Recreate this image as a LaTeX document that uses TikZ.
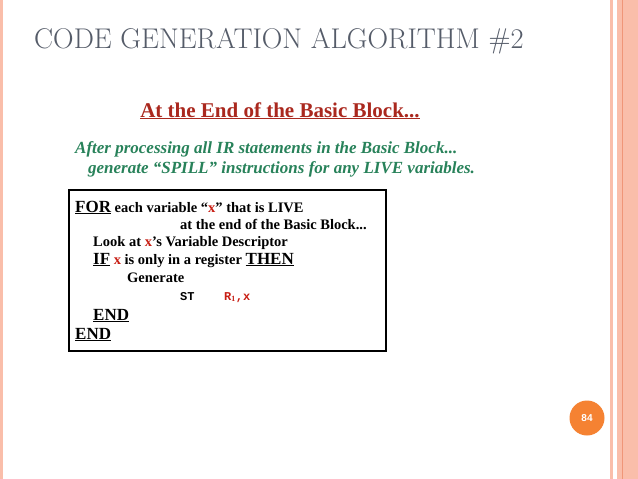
\documentclass[tikz,border=0pt]{standalone}
\usepackage{fontspec}
\setmainfont{Liberation Serif}
\newfontfamily\lmr{Latin Modern Roman}
\newfontfamily\mono{Liberation Mono}
\newfontfamily\sans{Liberation Sans}
\newcommand{\myul}[1]{\underline{#1}}
\definecolor{salmon}{RGB}{250,190,170}
\definecolor{salmond}{RGB}{240,150,120}
\definecolor{titleg}{RGB}{85,92,105}
\definecolor{headred}{RGB}{170,40,30}
\definecolor{greentxt}{RGB}{40,130,90}
\definecolor{xred}{RGB}{200,30,20}
\definecolor{orangec}{RGB}{245,130,50}
\tikzset{ln/.style={anchor=base west,inner sep=0,font=\bfseries\fontsize{14.5}{16}\selectfont}}
\begin{document}
\begin{tikzpicture}[x=1pt,y=-1pt]
\useasboundingbox (0,0) rectangle (638,479);
\fill[white] (0,0) rectangle (638,479);
\fill[salmon] (0,0) rectangle (3,479);
\fill[salmon] (610,0) rectangle (613,479);
\fill[salmon] (617,0) rectangle (638,479);
\draw[salmond,line width=0.8] (622,0) -- (622,479);
\node[anchor=base west,inner sep=0,text=titleg,font=\lmr\fontsize{28.5}{30}\selectfont] (title) at (34,48) {CODE GENERATION ALGORITHM \#2};
\node[anchor=base,inner sep=0,text=headred,font=\bfseries\fontsize{21}{24}\selectfont] (head) at (280,117) {\myul{At the End of the Basic Block...}};
\node[anchor=base west,inner sep=0,text=greentxt,font=\bfseries\itshape\fontsize{17}{19}\selectfont] (g1) at (75,153) {After processing all IR statements in the Basic Block...};
\node[anchor=base west,inner sep=0,text=greentxt,font=\bfseries\itshape\fontsize{17}{19}\selectfont] (g2) at (88,173) {generate “SPILL” instructions for any LIVE variables.};
\draw[line width=1.3] (69,190) rectangle (386,351);
\node[ln] (l1) at (75,212) {{\fontsize{17}{18}\selectfont\myul{FOR}} each variable “{\color{xred}x}” that is LIVE};
\node[ln] (l2) at (180,229) {at the end of the Basic Block...};
\node[ln] (l3) at (93,246) {Look at {\color{xred}x}’s Variable Descriptor};
\node[ln] (l4) at (93,264) {{\fontsize{17}{18}\selectfont\myul{IF}} {\color{xred}x} is only in a register {\fontsize{17}{18}\selectfont\myul{THEN}}};
\node[ln] (l5) at (127,282) {Generate};
\node[ln,font=\mono\bfseries\fontsize{12}{13}\selectfont] (l6) at (180,300) {ST};
\node[ln,font=\mono\bfseries\fontsize{12}{13}\selectfont,text=xred] (l6b) at (224,300) {R$_\mathbf{1}$,x};
\node[ln,font=\bfseries\fontsize{17}{18}\selectfont] (l7) at (93,320) {\myul{END}};
\node[ln,font=\bfseries\fontsize{17}{18}\selectfont] (l8) at (75,339) {\myul{END}};
\fill[orangec] (587,418) circle (17.5);
\node[text=white,font=\sans\bfseries\fontsize{10}{11}\selectfont] (pg) at (587,418) {84};
\end{tikzpicture}
\end{document}
